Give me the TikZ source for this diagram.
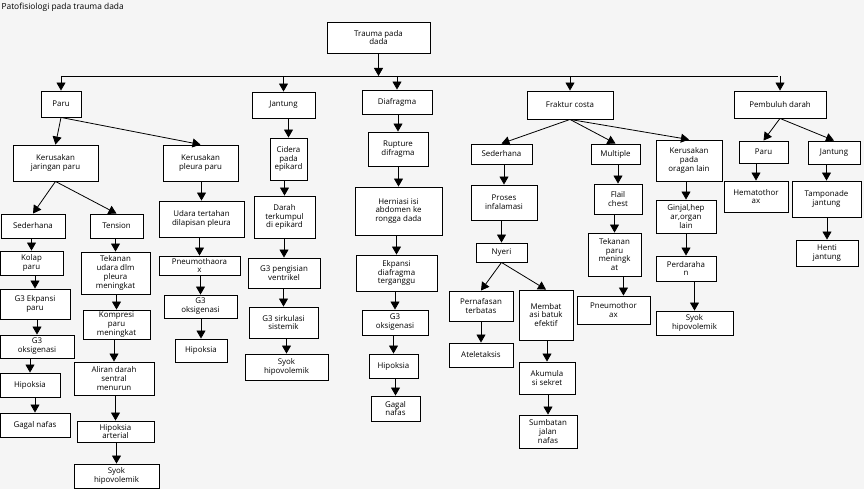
\documentclass[tikz,border=0pt]{standalone}
\usepackage{fontspec}
\setmainfont{Open Sans}
\usetikzlibrary{arrows.meta}
\newcommand\bx[6]{\node[box,minimum width={(#4-#2)*1pt},minimum height={(#5-#3)*1pt}] (#1) at ({(#2+#4)/2},{-(#3+#5)/2}) {#6};}
\newcommand\dn[2]{\draw[arr] (#2.north |- #1.south) -- (#2.north);}
\begin{document}
\begin{tikzpicture}[x=1pt,y=1pt,
 box/.style={draw,line width=0.9pt,fill=white,align=center,inner sep=1pt,font=\fontsize{7.9}{8.9}\selectfont},
 arr/.style={line width=0.8pt,-{Triangle[length=8pt,width=9pt]}}]
\fill[white!96!black] (0,0) rectangle (864,-489);
\useasboundingbox (0,0) rectangle (864,-489);
\node[anchor=west,font=\fontsize{8.4}{9}\selectfont] (title) at (-2,-7) {Patofisiologi pada trauma dada};
\bx{tr}{327}{22}{430}{53}{Trauma pada\\dada}
\bx{paru}{41}{91}{81}{117}{Paru}
\bx{jan}{252}{92}{315}{118}{Jantung}
\bx{dia}{362}{90}{432}{114}{Diafragma}
\bx{fr}{527}{91}{613}{119}{Fraktur costa}
\bx{pd}{734}{91}{826}{118}{Pembuluh darah}
\coordinate (barL) at (61,-76);
\coordinate (barR) at (778,-76);
\draw[line width=0.8pt] (barL) -- (barR);
\draw[arr] (tr.south) -- (tr.south |- barL);
\foreach \n in {paru,jan,dia,fr,pd} {\draw[arr] (\n.north |- barL) -- (\n.north);}
% Paru branch
\bx{kjp}{13}{145}{98}{181}{Kerusakan\\jaringan paru}
\bx{kpp}{163}{145}{238}{181}{Kerusakan\\pleura paru}
\draw[arr] (paru.south) -- (kjp.north);
\draw[arr] (paru.south) -- (kpp.north);
\bx{sd1}{1}{214}{65}{238}{Sederhana}
\bx{ten}{90}{214}{143}{238}{Tension}
\draw[arr] (kjp.south) -- (sd1.north);
\draw[arr] (kjp.south) -- (ten.north);
\bx{kol}{0}{251}{63}{275}{Kolap\\paru}
\bx{gek}{0}{289}{70}{319}{G3 Ekpansi\\paru}
\bx{gok1}{0}{335}{74}{358}{G3\\oksigenasi}
\bx{hip1}{0}{373}{60}{397}{Hipoksia}
\bx{gn1}{0}{413}{70}{437}{Gagal nafas}
\dn{sd1}{kol}\dn{kol}{gek}\dn{gek}{gok1}\dn{gok1}{hip1}\dn{hip1}{gn1}
\bx{tek}{81}{252}{150}{294}{Tekanan\\udara dlm\\pleura\\meningkat}
\bx{kom}{83}{310}{150}{339}{Kompresi\\paru\\meningkat}
\bx{ali}{74}{362}{154}{395}{Aliran darah\\sentral\\menurun}
\bx{hipa}{77}{421}{154}{442}{Hipoksia\\arterial}
\bx{sy1}{74}{464}{159}{488}{Syok\\hipovolemik}
\dn{ten}{tek}\dn{tek}{kom}\dn{kom}{ali}\dn{ali}{hipa}\dn{hipa}{sy1}
\bx{uda}{159}{201}{244}{237}{Udara tertahan\\dilapisan pleura}
\bx{pnx1}{159}{256}{240}{275}{Pneumothaora\\x}
\bx{gok2}{164}{295}{237}{318}{G3\\oksigenasi}
\bx{hip2}{175}{339}{227}{362}{Hipoksia}
\dn{kpp}{uda}\dn{uda}{pnx1}\dn{pnx1}{gok2}\dn{gok2}{hip2}
% Jantung
\bx{cid}{270}{138}{307}{180}{Cidera\\pada\\epikard}
\bx{dar}{254}{196}{315}{238}{Darah\\terkumpul\\di epikard}
\bx{gpv}{248}{258}{320}{288}{G3 pengisian\\ventrikel}
\bx{gss}{249}{307}{318}{338}{G3 sirkulasi\\sistemik}
\bx{sy2}{245}{354}{328}{380}{Syok\\hipovolemik}
\dn{jan}{cid}\dn{cid}{dar}\dn{dar}{gpv}\dn{gpv}{gss}\dn{gss}{sy2}
% Diafragma
\bx{rup}{368}{132}{428}{166}{Rupture\\difragma}
\bx{her}{355}{187}{442}{235}{Herniasi isi\\abdomen ke\\rongga dada}
\bx{ekp}{356}{255}{437}{291}{Ekpansi\\diafragma\\terganggu}
\bx{gok3}{362}{310}{428}{335}{G3\\oksigenasi}
\bx{hip3}{369}{354}{418}{378}{Hipoksia}
\bx{gn3}{371}{396}{420}{421}{Gagal\\nafas}
\dn{dia}{rup}\dn{rup}{her}\dn{her}{ekp}\dn{ekp}{gok3}\dn{gok3}{hip3}\dn{hip3}{gn3}
% Fraktur costa
\bx{sd2}{471}{144}{532}{164}{Sederhana}
\bx{mul}{591}{144}{640}{164}{Multiple}
\bx{kor}{656}{140}{722}{181}{Kerusakan\\pada\\oragan lain}
\draw[arr] (fr.south) -- (sd2.north);
\draw[arr] (fr.south) -- (mul.north);
\draw[arr] (fr.south) -- (kor.north);
\bx{pro}{471}{185}{537}{220}{Proses\\infalamasi}
\bx{nye}{476}{243}{527}{262}{Nyeri}
\bx{per}{449}{291}{513}{321}{Pernafasan\\terbatas}
\bx{ate}{449}{343}{513}{367}{Ateletaksis}
\bx{mem}{519}{290}{573}{340}{Membat\\asi batuk\\efektif}
\bx{aku}{519}{362}{575}{394}{Akumula\\si sekret}
\bx{sum}{519}{415}{577}{448}{Sumbatan\\jalan\\nafas}
\dn{sd2}{pro}\dn{pro}{nye}
\draw[arr] (nye.south) -- (per.north);
\draw[arr] (nye.south) -- (mem.north);
\dn{per}{ate}\dn{mem}{aku}\dn{aku}{sum}
\bx{fla}{594}{184}{642}{214}{Flail\\chest}
\bx{tpm}{588}{233}{641}{276}{Tekanan\\paru\\meningk\\at}
\bx{pnx2}{577}{296}{650}{324}{Pneumothor\\ax}
\dn{mul}{fla}\dn{fla}{tpm}\draw[arr] ([xshift=-3pt]tpm.south east) ++(-15,0) coordinate (t1) -- (t1 |- pnx2.north);
\bx{gin}{656}{200}{716}{233}{Ginjal,hep\\ar,organ\\lain}
\bx{prd}{656}{256}{716}{281}{Perdaraha\\n}
\bx{sy3}{656}{311}{733}{335}{Syok\\hipovolemik}
\dn{kor}{gin}\dn{gin}{prd}\dn{prd}{sy3}
% Pembuluh darah
\bx{pp}{739}{141}{788}{163}{Paru}
\bx{pj}{808}{141}{860}{164}{Jantung}
\draw[arr] (pd.south) -- (pp.north);
\draw[arr] (pd.south) -- (pj.north);
\bx{hem}{724}{181}{788}{212}{Hematothor\\ax}
\bx{tam}{792}{181}{861}{217}{Tamponade\\jantung}
\bx{hen}{796}{240}{858}{266}{Henti\\jantung}
\dn{pp}{hem}\dn{pj}{tam}\dn{tam}{hen}
\end{tikzpicture}
\end{document}
